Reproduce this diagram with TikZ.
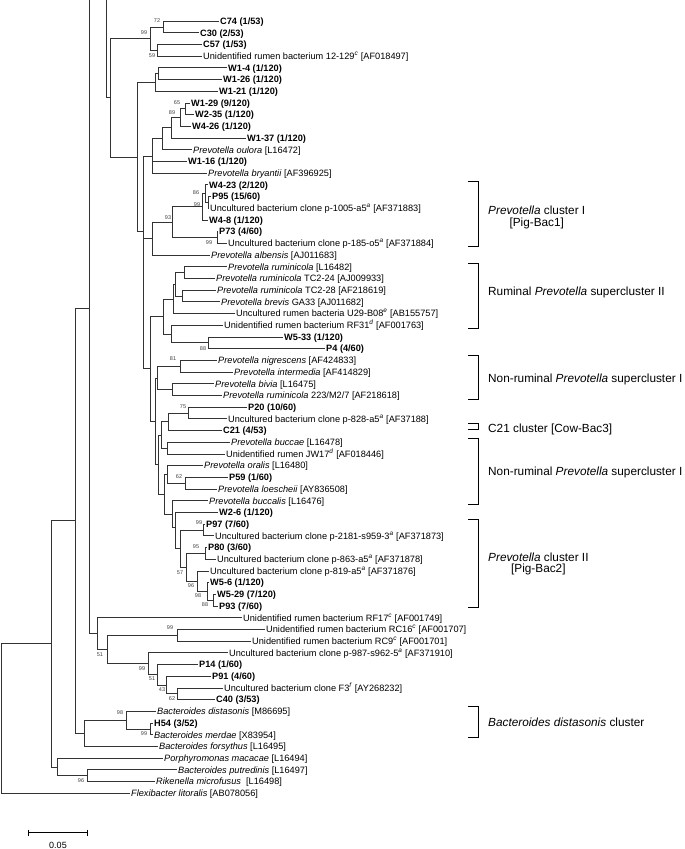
\documentclass[tikz,border=0pt]{standalone}
\usepackage{fontspec}
\setmainfont{Liberation Sans}
\begin{document}
\begin{tikzpicture}[x=1pt,y=-11.7pt,
  leaf/.style={anchor=west,inner sep=1pt,text height=6.6pt,text depth=0pt,font=\fontsize{9.2}{11}\selectfont},
  boot/.style={inner sep=0pt,font=\fontsize{5.5}{6}\selectfont,text=black!75},
  group/.style={anchor=west,align=center,inner sep=0pt,font=\fontsize{11.8}{11.7}\selectfont},
  branch/.style={draw=black!80,line width=0.7pt}]

\useasboundingbox (0,-0.795) rectangle (685,71.769);
\clip (0,-0.795) rectangle (685,71.769);

% leaves, one row each
\node[leaf] (c74) at (219,1) {\textbf{C74 (1/53)}};
\node[leaf] (c30) at (199,2) {\textbf{C30 (2/53)}};
\node[leaf] (c57) at (202,3) {\textbf{C57 (1/53)}};
\node[leaf] (u12) at (202,4) {Unidentified rumen bacterium 12-129\textsuperscript{\textit{c}} [AF018497]};
\node[leaf] (w14) at (227,5) {\textbf{W1-4 (1/120)}};
\node[leaf] (w126) at (222,6) {\textbf{W1-26 (1/120)}};
\node[leaf] (w121) at (218,7) {\textbf{W1-21 (1/120)}};
\node[leaf] (w129) at (190,8) {\textbf{W1-29 (9/120)}};
\node[leaf] (w235) at (194,9) {\textbf{W2-35 (1/120)}};
\node[leaf] (w426) at (191,10) {\textbf{W4-26 (1/120)}};
\node[leaf] (w137) at (246,11) {\textbf{W1-37 (1/120)}};
\node[leaf] (poul) at (192,12) {\textit{Prevotella oulora} [L16472]};
\node[leaf] (w116) at (187,13) {\textbf{W1-16 (1/120)}};
\node[leaf] (pbry) at (207,14) {\textit{Prevotella bryantii} [AF396925]};
\node[leaf] (w423) at (208,15) {\textbf{W4-23 (2/120)}};
\node[leaf] (p95) at (211,16) {\textbf{P95 (15/60)}};
\node[leaf] (u1005) at (209,17) {Uncultured bacterium clone p-1005-a5\textsuperscript{\textit{a}} [AF371883]};
\node[leaf] (w48) at (208,18) {\textbf{W4-8 (1/120)}};
\node[leaf] (p73) at (218,19) {\textbf{P73 (4/60)}};
\node[leaf] (u185) at (227,20) {Uncultured bacterium clone p-185-o5\textsuperscript{\textit{a}} [AF371884]};
\node[leaf] (palb) at (210,21) {\textit{Prevotella albensis} [AJ011683]};
\node[leaf] (prum) at (227,22) {\textit{Prevotella ruminicola} [L16482]};
\node[leaf] (tc224) at (215,23) {\textit{Prevotella ruminicola} TC2-24 [AJ009933]};
\node[leaf] (tc228) at (216,24) {\textit{Prevotella ruminicola} TC2-28 [AF218619]};
\node[leaf] (pbre) at (220,25) {\textit{Prevotella brevis} GA33 [AJ011682]};
\node[leaf] (u29) at (235,26) {Uncultured rumen bacteria U29-B08\textsuperscript{\textit{e}} [AB155757]};
\node[leaf] (rf31) at (223,27) {Unidentified rumen bacterium RF31\textsuperscript{\textit{d}} [AF001763]};
\node[leaf] (w533) at (283,28) {\textbf{W5-33 (1/120)}};
\node[leaf] (p4) at (325,29) {\textbf{P4 (4/60)}};
\node[leaf] (pnig) at (217,30) {\textit{Prevotella nigrescens} [AF424833]};
\node[leaf] (pint) at (233,31) {\textit{Prevotella intermedia} [AF414829]};
\node[leaf] (pbiv) at (214,32) {\textit{Prevotella bivia} [L16475]};
\node[leaf] (r223) at (222,33) {\textit{Prevotella ruminicola} 223/M2/7 [AF218618]};
\node[leaf] (p20) at (247,34) {\textbf{P20 (10/60)}};
\node[leaf] (u828) at (227,35) {Uncultured bacterium clone p-828-a5\textsuperscript{\textit{a}} [AF37188]};
\node[leaf] (c21) at (222,36) {\textbf{C21 (4/53)}};
\node[leaf] (pbuc) at (230,37) {\textit{Prevotella buccae} [L16478]};
\node[leaf] (jw17) at (225,38) {Unidentified rumen JW17\textsuperscript{\textit{d}} [AF018446]};
\node[leaf] (pora) at (203,39) {\textit{Prevotella oralis} [L16480]};
\node[leaf] (p59) at (228,40) {\textbf{P59 (1/60)}};
\node[leaf] (ploe) at (217,41) {\textit{Prevotella loescheii} [AY836508]};
\node[leaf] (pbcl) at (208,42) {\textit{Prevotella buccalis} [L16476]};
\node[leaf] (w26) at (218,43) {\textbf{W2-6 (1/120)}};
\node[leaf] (p97) at (205,44) {\textbf{P97 (7/60)}};
\node[leaf] (u2181) at (214,45) {Uncultured bacterium clone p-2181-s959-3\textsuperscript{\textit{a}} [AF371873]};
\node[leaf] (p80) at (207,46) {\textbf{P80 (3/60)}};
\node[leaf] (u863) at (216,47) {Uncultured bacterium clone p-863-a5\textsuperscript{\textit{a}} [AF371878]};
\node[leaf] (u819) at (209,48) {Uncultured bacterium clone p-819-a5\textsuperscript{\textit{a}} [AF371876]};
\node[leaf] (w56) at (209,49) {\textbf{W5-6 (1/120)}};
\node[leaf] (w529) at (216,50) {\textbf{W5-29 (7/120)}};
\node[leaf] (p93) at (218,51) {\textbf{P93 (7/60)}};
\node[leaf] (rf17) at (242,52) {Unidentified rumen bacterium RF17\textsuperscript{\textit{c}} [AF001749]};
\node[leaf] (rc16) at (265,53) {Unidentified rumen bacterium RC16\textsuperscript{\textit{c}} [AF001707]};
\node[leaf] (rc9) at (251,54) {Unidentified rumen bacterium RC9\textsuperscript{\textit{c}} [AF001701]};
\node[leaf] (u987) at (228,55) {Uncultured bacterium clone p-987-s962-5\textsuperscript{\textit{a}} [AF371910]};
\node[leaf] (p14) at (198,56) {\textbf{P14 (1/60)}};
\node[leaf] (p91) at (211,57) {\textbf{P91 (4/60)}};
\node[leaf] (f3) at (223,58) {Uncultured bacterium clone F3\textsuperscript{\textit{f}} [AY268232]};
\node[leaf] (c40) at (215,59) {\textbf{C40 (3/53)}};
\node[leaf] (bdis) at (156,60) {\textit{Bacteroides distasonis} [M86695]};
\node[leaf] (h54) at (153,61) {\textbf{H54 (3/52)}};
\node[leaf] (bmer) at (153,62) {\textit{Bacteroides merdae} [X83954]};
\node[leaf] (bfor) at (158,63) {\textit{Bacteroides forsythus} [L16495]};
\node[leaf] (pmac) at (163,64) {\textit{Porphyromonas macacae} [L16494]};
\node[leaf] (bput) at (177,65) {\textit{Bacteroides putredinis} [L16497]};
\node[leaf] (rmic) at (155,66) {\textit{Rikenella microfusus}\ \ [L16498]};
\node[leaf] (flex) at (130,67) {\textit{Flexibacter litoralis} [AB078056]};

% inner nodes
\coordinate (root) at (1,60.6);
\coordinate (n1) at (51,54.23);
\coordinate (n2) at (75,43.7);
\coordinate (n3) at (89,25.53);
\coordinate (n4) at (106,-2.3);
\coordinate (ny) at (110,7.56);
\coordinate (nc74) at (150,2.5);
\coordinate (n72) at (163,1.5);
\coordinate (n59) at (157,3.5);
\coordinate (nw) at (137,12.63);
\coordinate (nw21) at (155,6.25);
\coordinate (nw4) at (158,5.5);
\coordinate (nz) at (143,19);
\coordinate (nq) at (152,12.53);
\coordinate (noul) at (162,11.06);
\coordinate (nw37) at (171,10.13);
\coordinate (n89) at (180,9.25);
\coordinate (n65) at (185,8.5);
\coordinate (nci) at (152,19.59);
\coordinate (n93) at (172,18.19);
\coordinate (n99b) at (202,16.88);
\coordinate (n86) at (205,15.75);
\coordinate (np95) at (208,16.5);
\coordinate (n99c) at (217,19.5);
\coordinate (nl1) at (150,30.73);
\coordinate (nrum) at (163,26.25);
\coordinate (nru4) at (173,24.75);
\coordinate (nru3) at (175,23.5);
\coordinate (nru1) at (184,22.5);
\coordinate (nru2) at (182,24.5);
\coordinate (nrf31) at (171,27.75);
\coordinate (n88a) at (208,28.5);
\coordinate (nl2) at (155,35.2);
\coordinate (nnr1) at (157,31.5);
\coordinate (n81) at (180,30.5);
\coordinate (nbiv) at (172,32.5);
\coordinate (nl3) at (158,38.9);
\coordinate (npcb) at (161,36.38);
\coordinate (nc21) at (168,35.25);
\coordinate (n75) at (188,34.5);
\coordinate (nbuc) at (167,37.5);
\coordinate (noc) at (164,41.44);
\coordinate (nora) at (167,39.75);
\coordinate (n62a) at (185,40.5);
\coordinate (nbcl) at (172,43.13);
\coordinate (nw26) at (175,44.25);
\coordinate (np97) at (180,46.09);
\coordinate (n99d) at (203,44.5);
\coordinate (n57) at (186,47.69);
\coordinate (n95) at (205,46.5);
\coordinate (n96) at (197,48.88);
\coordinate (n98) at (207,49.75);
\coordinate (n88b) at (213,50.5);
\coordinate (na) at (97,53.36);
\coordinate (nb) at (107,54.72);
\coordinate (nrc) at (177,53.5);
\coordinate (n987) at (148,55.94);
\coordinate (np14) at (157,56.88);
\coordinate (np91) at (166,57.75);
\coordinate (nf3) at (177,58.5);
\coordinate (nbac) at (84,61.88);
\coordinate (n98c) at (126,60.75);
\coordinate (nh54) at (150,61.5);
\coordinate (npor) at (57,64.75);
\coordinate (nrik) at (87,65.5);

\foreach \p/\c in {root/n1,root/flex,n1/n2,n1/npor,n2/n3,n2/nbac,n3/n4,n3/na,n4/ny,
  ny/nc74,ny/nw,nc74/n72,nc74/n59,n72/c74,n72/c30,n59/c57,n59/u12,
  nw/nw21,nw/nz,nw21/nw4,nw21/w121,nw4/w14,nw4/w126,
  nz/nq,nz/nci,nz/nl1,nq/noul,nq/w116,nq/pbry,noul/nw37,noul/poul,
  nw37/n89,nw37/w137,n89/n65,n89/w426,n65/w129,n65/w235,
  nci/n93,nci/palb,n93/n99b,n93/n99c,n99b/n86,n99b/w48,n86/w423,n86/np95,
  np95/p95,np95/u1005,n99c/p73,n99c/u185,
  nl1/nrum,nl1/nl2,nrum/nru4,nrum/nrf31,nru4/nru3,nru4/u29,nru3/nru1,nru3/nru2,
  nru1/prum,nru1/tc224,nru2/tc228,nru2/pbre,nrf31/rf31,nrf31/n88a,n88a/w533,n88a/p4,
  nl2/nnr1,nl2/nl3,nnr1/n81,nnr1/nbiv,n81/pnig,n81/pint,nbiv/pbiv,nbiv/r223,
  nl3/npcb,nl3/noc,npcb/nc21,npcb/nbuc,nc21/n75,nc21/c21,n75/p20,n75/u828,
  nbuc/pbuc,nbuc/jw17,noc/nora,noc/nbcl,nora/pora,nora/n62a,n62a/p59,n62a/ploe,
  nbcl/pbcl,nbcl/nw26,nw26/w26,nw26/np97,np97/n99d,np97/n57,n99d/p97,n99d/u2181,
  n57/n95,n57/n96,n95/p80,n95/u863,n96/u819,n96/n98,n98/w56,n98/n88b,n88b/w529,n88b/p93,
  na/rf17,na/nb,nb/nrc,nb/n987,nrc/rc16,nrc/rc9,n987/u987,n987/np14,
  np14/p14,np14/np91,np91/p91,np91/nf3,nf3/f3,nf3/c40,
  nbac/n98c,nbac/bfor,n98c/bdis,n98c/nh54,nh54/h54,nh54/bmer,
  npor/pmac,npor/nrik,nrik/bput,nrik/rmic}
{
    \draw[branch] (\p) |- (\c);
}

% bootstrap values
\foreach \x/\y/\v in {157/1.0/72,144/2.03/99,152/3.99/59,177/8.0/65,172/8.86/89,
  196/15.7/86,197/16.73/99,168/17.84/93,209/19.97/99,203/29.03/88,173/29.89/81,
  183/33.99/75,179/39.97/62,199/43.9/99,196/45.96/95,180/48.18/57,191/49.29/96,
  198/50.15/98,205/50.91/88,170/52.88/99,100/55.19/51,142/56.38/99,152/57.24/51,
  162/58.18/43,172/58.95/62,120/60.15/98,144/61.94/99,81/65.96/96}
{
    \node[boot] at (\x,\y) {\v};
}

% cluster brackets
\foreach \a/\b in {14.68/20.23,21.68/27.24,29.55/33.31,35.42/35.93,36.64/42.28,43.56/51.09,59.55/62.2}
{
    \draw[line width=0.8pt] (468,\a) -| (478,\b) -- (468,\b);
}
\node[group] (cl1) at (488,17.78) {\textit{Prevotella} cluster I\\{[Pig-Bac1]}};
\node[group] (rum2) at (488,24.16) {Ruminal \textit{Prevotella} supercluster II};
\node[group] (nr1) at (488,31.6) {Non-ruminal \textit{Prevotella} supercluster I};
\node[group] (cow3) at (488,35.87) {C21 cluster [Cow-Bac3]};
\node[group] (nr2) at (488,39.55) {Non-ruminal \textit{Prevotella} supercluster I};
\node[group] (cl2) at (488,47.41) {\textit{Prevotella} cluster II\\{[Pig-Bac2]}};
\node[group] (bdc) at (488,60.9) {\textit{Bacteroides distasonis} cluster};

% scale bar
\draw[line width=0.7pt] (28.7,70.38) coordinate (s0) -- (87.3,70.38) coordinate (s1);
\draw[line width=0.7pt] (28.7,70.12) -- (28.7,70.64) (87.3,70.12) -- (87.3,70.64);
\node[font=\fontsize{9}{10}\selectfont] (scl) at (58,71.43) {0.05};

\end{tikzpicture}
\end{document}
